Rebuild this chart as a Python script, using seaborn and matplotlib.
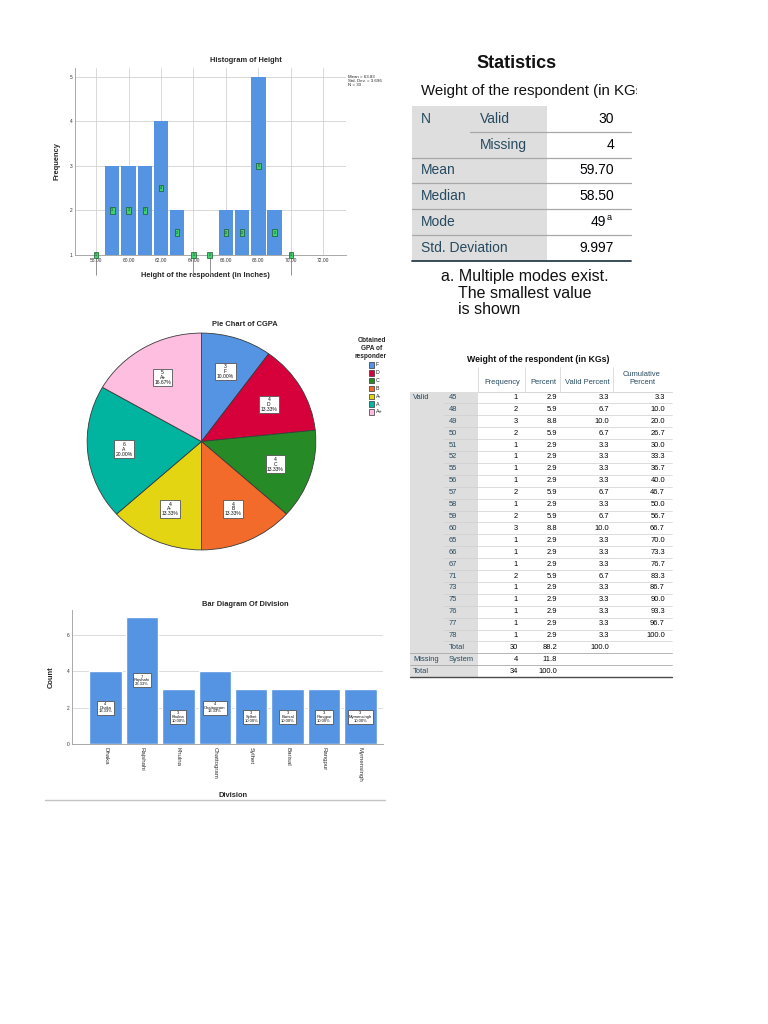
import numpy as np
import pandas as pd
import matplotlib
matplotlib.use("Agg")
import matplotlib.pyplot as plt
import seaborn as sns
from matplotlib.patches import Rectangle
from matplotlib.transforms import Bbox, TransformedBbox

# ---------------- data ----------------
height_values = [58, 59, 60, 61, 62, 63, 64, 65, 66, 67, 68, 69, 70]
height_counts = [1, 3, 3, 3, 4, 2, 1, 1, 2, 2, 5, 2, 1]
height_ticks = [58, 60, 62, 64, 66, 68, 70, 72]
height_yticks = [1, 2, 3, 4, 5]
height_summary = ["Mean = 63.83", "Std. Dev. = 3.696", "N = 30"]

gpa_grades = ["F", "D", "C", "B", "A-", "A", "A+"]
gpa_counts = [3, 4, 4, 4, 4, 6, 5]
gpa_percents = ["10.00%", "13.33%", "13.33%", "13.33%", "13.33%", "20.00%", "16.67%"]
gpa_colors = ["#5593E3", "#D6003B", "#268B26", "#F26B2B", "#E3D512", "#00B4A0", "#FDBEDF"]
gpa_legend_title = ["Obtained", "GPA of", "respondent"]

divisions = ["Dhaka", "Rajshahi", "Khulna", "Chattogram", "Sylhet", "Barisal", "Rangpur", "Mymensingh"]
division_counts = [4, 7, 3, 4, 3, 3, 3, 3]
division_percents = ["13.33%", "23.33%", "10.00%", "13.33%", "10.00%", "10.00%", "10.00%", "10.00%"]
division_yticks = [0, 2, 4, 6]

stat_group_labels = ["N", "", "Mean", "Median", "Mode", "Std. Deviation"]
stat_sub_labels = ["Valid", "Missing", "", "", "", ""]
stat_values = ["30", "4", "59.70", "58.50", "49", "9.997"]
stat_footnote = ["a. Multiple modes exist.", "The smallest value", "is shown"]

weight_values = ["45", "48", "49", "50", "51", "52", "55", "56", "57", "58", "59",
                 "60", "65", "66", "67", "71", "73", "75", "76", "77", "78"]
weight_freq = ["1", "2", "3", "2", "1", "1", "1", "1", "2", "1", "2",
               "3", "1", "1", "1", "2", "1", "1", "1", "1", "1"]
weight_percent = ["2.9", "5.9", "8.8", "5.9", "2.9", "2.9", "2.9", "2.9", "5.9", "2.9", "5.9",
                  "8.8", "2.9", "2.9", "2.9", "5.9", "2.9", "2.9", "2.9", "2.9", "2.9"]
weight_valid_percent = ["3.3", "6.7", "10.0", "6.7", "3.3", "3.3", "3.3", "3.3", "6.7", "3.3", "6.7",
                        "10.0", "3.3", "3.3", "3.3", "6.7", "3.3", "3.3", "3.3", "3.3", "3.3"]
weight_cum_percent = ["3.3", "10.0", "20.0", "26.7", "30.0", "33.3", "36.7", "40.0", "46.7", "50.0", "56.7",
                      "66.7", "70.0", "73.3", "76.7", "83.3", "86.7", "90.0", "93.3", "96.7", "100.0"]
weight_total_rows = [("", "Total", "30", "88.2", "100.0", ""),
                     ("Missing", "System", "4", "11.8", "", ""),
                     ("Total", "", "34", "100.0", "", "")]

# ---------------- style ----------------
sns.set_style("white")
plt.rcParams["font.family"] = ["Liberation Sans", "DejaVu Sans"]
BLUE = "#5593E3"
LAB = "#264A60"
NUM = "#010205"

W, H = 768, 1024
fig = plt.figure(figsize=(W / 100, H / 100), dpi=100)
bg = fig.add_axes([0, 0, 1, 1])
bg.set_xlim(0, W)
bg.set_ylim(H, 0)
bg.axis("off")


def rect(x0, y0, x1, y1):
    return [x0 / W, 1 - y1 / H, (x1 - x0) / W, (y1 - y0) / H]


def clip_right(artist, x1):
    artist.set_clip_on(True)
    artist.set_clip_box(TransformedBbox(Bbox.from_extents(0, 0, x1 / W, 1), fig.transFigure))


# ---------------- histogram ----------------
axh = fig.add_axes(rect(75, 68, 346, 255))
sns.histplot(x=height_values, weights=height_counts, discrete=True, shrink=0.88,
             color=BLUE, alpha=1, edgecolor="none", ax=axh)
axh.set_xlim(56.7, 73.4)
axh.set_ylim(1, 5.2)
axh.set_xticks(height_ticks)
axh.set_xticklabels([f"{t:.2f}" for t in height_ticks], fontsize=3.5, color="#333333")
axh.set_yticks(height_yticks)
axh.set_yticklabels([str(t) for t in height_yticks], fontsize=3.5, color="#333333")
axh.tick_params(length=0, pad=2)
axh.grid(True, color="#D2D2D2", lw=0.6)
axh.set_axisbelow(True)
for s in ["top", "right"]:
    axh.spines[s].set_visible(False)
for s in ["left", "bottom"]:
    axh.spines[s].set_color("#9A9A9A")
    axh.spines[s].set_linewidth(0.6)
axh.set_xlabel("Height of the respondent (in Inches)", fontsize=5.4, fontweight="bold")
axh.set_ylabel("Frequency", fontsize=5.4, fontweight="bold")
axh.xaxis.set_label_coords(0.48, -0.09)
axh.yaxis.set_label_coords(-0.055, 0.5)
for xv, c in zip(height_values, height_counts):
    if c == 1:
        axh.vlines(xv, 0.55, 1, colors="#808080", lw=0.6, clip_on=False, zorder=3)
    axh.text(xv, (1 + c) / 2, str(c), fontsize=2.6, ha="center", va="center", zorder=5,
             clip_on=False,
             bbox=dict(boxstyle="square,pad=0.35", fc="#3DD26F", ec="#1C5A2C", lw=0.5))
bg.text(246, 60, "Histogram of Height", fontsize=5.4, fontweight="bold", ha="center", va="center")
t = bg.text(348, 75, "\n".join(height_summary), fontsize=3.2, ha="left", va="top",
            linespacing=1.0, color="#222222")
clip_right(t, 384)

# ---------------- pie ----------------
axp = fig.add_axes(rect(86, 332, 317, 551))
labels = [f"{c}\n{g}\n{p}" for c, g, p in zip(gpa_counts, gpa_grades, gpa_percents)]
wedges, texts = axp.pie(gpa_counts, colors=gpa_colors, startangle=90, counterclock=False,
                        labels=labels, labeldistance=0.68,
                        wedgeprops=dict(edgecolor="#3A3A3A", linewidth=0.6),
                        textprops=dict(fontsize=3.6, linespacing=0.95, color="#111111"))
for tx in texts:
    tx.set_horizontalalignment("center")
    tx.set_bbox(dict(boxstyle="square,pad=0.3", fc="white", ec="#555555", lw=0.6))
axp.set_aspect("auto")
axp.set_xlim(-1.01, 1.01)
axp.set_ylim(-1.01, 1.01)
axp.axis("off")
bg.text(245, 325, "Pie Chart of CGPA", fontsize=5.4, fontweight="bold", ha="center", va="center")
for i, line in enumerate(gpa_legend_title):
    tl = bg.text(372, 340 + i * 8, line, fontsize=4.7, fontweight="bold", ha="center", va="center")
    clip_right(tl, 386)
for i, (g, col) in enumerate(zip(gpa_grades, gpa_colors)):
    y = 365 + i * 7.8
    bg.add_patch(Rectangle((369, y - 2.7), 5.4, 5.4, fc=col, ec="#333333", lw=0.5))
    bg.text(376, y, g, fontsize=3.8, ha="left", va="center", color="#222222")

# ---------------- bar chart ----------------
axb = fig.add_axes(rect(72, 610, 383, 744))
sns.barplot(x=divisions, y=division_counts, color=BLUE, saturation=1, width=0.89, ax=axb)
axb.set_xlim(-0.92, 7.62)
axb.set_ylim(0, 7.37)
axb.set_yticks(division_yticks)
axb.set_yticklabels([str(t) for t in division_yticks], fontsize=3.5, color="#333333")
axb.set_xticks(range(len(divisions)))
axb.set_xticklabels(divisions, rotation=-90, fontsize=4.4, color="#333333")
axb.tick_params(length=0, pad=2)
axb.yaxis.grid(True, color="#D6D6D6", lw=0.6)
axb.xaxis.grid(False)
axb.set_axisbelow(True)
for s in ["top", "right"]:
    axb.spines[s].set_visible(False)
for s in ["left", "bottom"]:
    axb.spines[s].set_color("#9A9A9A")
    axb.spines[s].set_linewidth(0.6)
axb.set_xlabel("Division", fontsize=5.4, fontweight="bold")
axb.set_ylabel("Count", fontsize=5.4, fontweight="bold")
axb.xaxis.set_label_coords(0.518, -0.36)
axb.yaxis.set_label_coords(-0.055, 0.5)
for i, (d, c, p) in enumerate(zip(divisions, division_counts, division_percents)):
    axb.text(i, c / 2, f"{c}\n{d}\n{p}", fontsize=3.0, ha="center", va="center",
             linespacing=0.95, color="#111111", zorder=5,
             bbox=dict(boxstyle="square,pad=0.3", fc="white", ec="#555555", lw=0.6))
bg.text(245, 604, "Bar Diagram Of Division", fontsize=5.4, fontweight="bold", ha="center", va="center")
bg.plot([45, 385], [800, 800], color="#C4C4C4", lw=1.0)

# ---------------- statistics table ----------------
bg.text(517, 63, "Statistics", fontsize=13, fontweight="bold", ha="center", va="center", color="#111111")
ts = bg.text(421, 91, "Weight of the respondent (in KGs)", fontsize=10.8, ha="left", va="center",
             color="#111111")
clip_right(ts, 637)
top, rh = 106, 25.8
bg.add_patch(Rectangle((412, top), 547 - 412, rh * 6, fc="#DEDEDE", ec="none"))
for i in range(6):
    yc = top + (i + 0.5) * rh
    if stat_group_labels[i]:
        bg.text(421, yc, stat_group_labels[i], fontsize=10, color=LAB, ha="left", va="center")
    if stat_sub_labels[i]:
        bg.text(480, yc, stat_sub_labels[i], fontsize=10, color=LAB, ha="left", va="center")
    if stat_values[i] == "49":
        bg.text(606, yc, stat_values[i], fontsize=10, color=NUM, ha="right", va="center")
        bg.text(607, yc - 5, "a", fontsize=6.5, color=NUM, ha="left", va="center")
    else:
        bg.text(614, yc, stat_values[i], fontsize=10, color=NUM, ha="right", va="center")
    yl = top + (i + 1) * rh
    if i == 5:
        bg.plot([412, 631], [yl, yl], color="#2B3E4C", lw=1.3)
    else:
        x0 = 470 if i == 0 else 412
        bg.plot([x0, 631], [yl, yl], color="#A8A8A8", lw=0.9)
bg.text(441, 276, stat_footnote[0], fontsize=11.5, ha="left", va="center", color="#111111")
bg.text(458, 293, stat_footnote[1], fontsize=11.5, ha="left", va="center", color="#111111")
bg.text(458, 310, stat_footnote[2], fontsize=11.5, ha="left", va="center", color="#111111")

# ---------------- frequency table ----------------
freq_df = pd.DataFrame({
    "group": ["Valid"] + [""] * (len(weight_values) - 1),
    "value": weight_values,
    "freq": weight_freq,
    "pct": weight_percent,
    "vpct": weight_valid_percent,
    "cpct": weight_cum_percent,
})
freq_df = pd.concat([freq_df, pd.DataFrame(weight_total_rows, columns=freq_df.columns)],
                    ignore_index=True)
FS = 5.4
bg.text(538, 360, "Weight of the respondent (in KGs)", fontsize=6.3, fontweight="bold",
        ha="center", va="center", color="#111111")
bg.text(502, 383, "Frequency", fontsize=FS, ha="center", va="center", color=LAB)
bg.text(543, 383, "Percent", fontsize=FS, ha="center", va="center", color=LAB)
bg.text(587, 383, "Valid Percent", fontsize=FS, ha="center", va="center", color=LAB)
bg.text(642, 374, "Cumulative", fontsize=FS, ha="center", va="center", color=LAB)
bg.text(642, 383, "Percent", fontsize=FS, ha="center", va="center", color=LAB)
for xv in [478, 525, 560, 613]:
    bg.plot([xv, xv], [367, 391.5], color="#D0D0D0", lw=0.5)
y0, frh = 397.5, 11.9
n = len(freq_df)
bg.add_patch(Rectangle((410, y0 - frh / 2), 478 - 410, frh * n, fc="#DEDEDE", ec="none"))
bg.plot([478, 672], [y0 - frh / 2, y0 - frh / 2], color="#C8C8C8", lw=0.5)
for i, row in freq_df.iterrows():
    yc = y0 + i * frh
    if row["group"]:
        bg.text(413, yc, row["group"], fontsize=FS, ha="left", va="center", color=LAB)
    if row["value"]:
        bg.text(449, yc, row["value"], fontsize=FS, ha="left", va="center", color=LAB)
    for key, xr in [("freq", 518), ("pct", 557), ("vpct", 609), ("cpct", 665)]:
        if row[key]:
            bg.text(xr, yc, row[key], fontsize=FS, ha="right", va="center", color=NUM)
    yl = yc + frh / 2
    if i == n - 1:
        bg.plot([410, 672], [yl, yl], color="#4A4A4A", lw=1.0)
    elif i >= n - 3:
        bg.plot([410, 672], [yl, yl], color="#A8A8A8", lw=0.6)
    else:
        bg.plot([443, 672], [yl, yl], color="#CFCFCF", lw=0.5)

fig.savefig("out.png", dpi=100)
